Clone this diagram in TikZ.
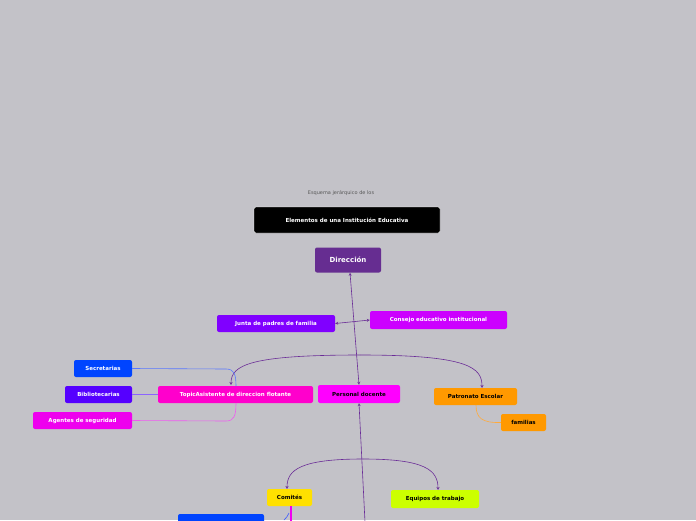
\documentclass[tikz,border=0pt]{standalone}
\usepackage{fontspec}
\setmainfont{DejaVu Sans}
\usetikzlibrary{arrows.meta}
\definecolor{bg}{HTML}{C3C2C8}
\definecolor{lin}{HTML}{6A2C97}
\begin{document}
\begin{tikzpicture}[x=1pt,y=-1pt,
 box/.style={rounded corners=2pt,inner sep=0pt,font=\fontsize{5.5}{6}\selectfont\bfseries,text=white},
 con/.style={draw=lin,line width=0.6pt},
 tip/.style={-{Stealth[length=3pt,width=3pt,open]}}]
\fill[bg] (0,0) rectangle (696,520);
\useasboundingbox (0,0) rectangle (696,520);
\node[text=black!65,font=\fontsize{5}{6}\selectfont] (t) at (341,193) {Esquema jerárquico de los};
\node[box,fill=black,draw=white,minimum width=186,minimum height=26] (el) at (347,220) {Elementos de una Institución Educativa};
\node[box,fill={rgb,255:red,102;green,45;blue,145},minimum width=66,minimum height=25,font=\fontsize{7}{8}\selectfont\bfseries] (dir) at (348,260) {Dirección};
\node[box,fill={rgb,255:red,128;green,0;blue,255},minimum width=118,minimum height=17] (ju) at (276,323.5) {Junta de padres de familia};
\node[box,fill={rgb,255:red,204;green,0;blue,255},minimum width=137,minimum height=18] (co) at (438.5,320) {Consejo educativo institucional};
\node[box,fill={rgb,255:red,255;green,0;blue,204},minimum width=155,minimum height=17] (to) at (235.5,394.5) {TopicAsistente de direccion flotante};
\node[box,fill={rgb,255:red,255;green,0;blue,255},text=black,minimum width=82,minimum height=18] (pd) at (359,394) {Personal docente};
\node[box,fill={rgb,255:red,255;green,153;blue,0},text=black,minimum width=83,minimum height=17] (pa) at (475.5,396.5) {Patronato Escolar};
\node[box,fill={rgb,255:red,255;green,153;blue,0},text=black,minimum width=45,minimum height=17] (fa) at (523.5,422.5) {familias};
\node[box,fill={rgb,255:red,0;green,68;blue,255},minimum width=58,minimum height=17] (se) at (103,368.5) {Secretarias};
\node[box,fill={rgb,255:red,85;green,0;blue,255},minimum width=67,minimum height=17] (bi) at (98.5,394.5) {Bibliotecarias};
\node[box,fill={rgb,255:red,238;green,0;blue,238},minimum width=99,minimum height=17] (ag) at (82.5,420.5) {Agentes de seguridad};
\node[box,fill={rgb,255:red,255;green,224;blue,0},text=black,minimum width=45,minimum height=17] (cm) at (289.5,497.5) {Comités};
\node[box,fill={rgb,255:red,204;green,255;blue,0},text=black,minimum width=88,minimum height=18] (eq) at (435,499) {Equipos de trabajo};
\fill[rounded corners=2pt,fill={rgb,255:red,0;green,68;blue,255}] (178,514) rectangle (264,525);
\coordinate (bot) at (365,522);
\coordinate (h1) at (360,355);
\coordinate (h2) at (363,459);
% connectors
\draw[con,{Stealth[length=3pt,width=3pt,open]}-{Stealth[length=3pt,width=3pt,open]}] (dir.south)++(2,0) -- (pd.north);
\draw[con,{Stealth[length=3pt,width=3pt,open]}-{Stealth[length=3pt,width=3pt,open]}] (ju.east) -- (co.west);
\draw[con,tip] (bot) -- (pd.south);
\draw[con,tip] (h1) .. controls (250,355) and (231,365) .. (231,385);
\draw[con,tip] (h1) .. controls (470,355) and (482,368) .. (482,388);
\draw[con,tip] (h2) .. controls (300,459) and (287,470) .. (287,489);
\draw[con,tip] (h2) .. controls (425,459) and (438,470) .. (438,490);
\draw[draw={rgb,255:red,90;green,120;blue,255},line width=0.6pt] (se.east) -- (226,369) .. controls (234,369) and (236,374) .. (236,386);
\draw[draw={rgb,255:red,140;green,100;blue,255},line width=0.6pt] (bi.east) -- (to.west);
\draw[draw={rgb,255:red,240;green,90;blue,240},line width=0.6pt] (ag.east) -- (226,421) .. controls (234,421) and (236,416) .. (236,403);
\draw[draw={rgb,255:red,255;green,170;blue,60},line width=0.6pt] (476,405) .. controls (476,418) and (482,423) .. (fa.west);
\draw[draw={rgb,255:red,240;green,0;blue,240},line width=2pt] (cm.south)++(1,0) -- (290.5,522);
\draw[draw={rgb,255:red,60;green,90;blue,255},line width=0.6pt] (289,513) .. controls (288,516) and (286,518) .. (284,520);
\end{tikzpicture}
\end{document}
